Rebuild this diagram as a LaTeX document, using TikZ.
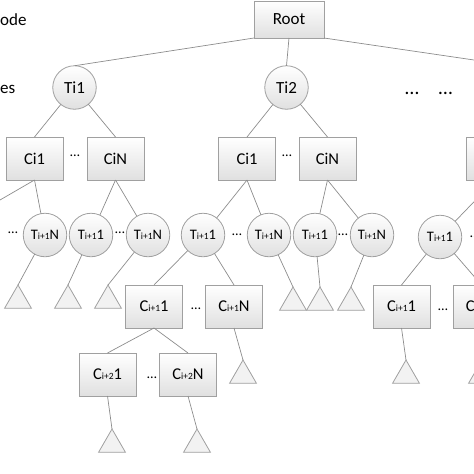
\documentclass[tikz,border=0pt]{standalone}
\usepackage{fontspec}
\setmainfont{Carlito}
\usetikzlibrary{shapes.geometric}
\definecolor{edgec}{HTML}{8C8C8C}
\definecolor{bordc}{HTML}{A0A0A0}
\definecolor{fillc}{HTML}{E0E0E0}
\definecolor{trifill}{HTML}{F2F2F2}
\newcommand\smt[1]{{\fontsize{9.5}{9.5}\selectfont #1}}
\begin{document}
\begin{tikzpicture}[x=1pt,y=-1pt,
  ed/.style={draw=edgec, line width=0.7pt},
  box/.style={draw=bordc, line width=0.8pt, top color=white, bottom color=fillc,
    minimum width=57pt, minimum height=43pt, inner sep=0pt, outer sep=0pt,
    font=\fontsize{16.5}{16.5}\selectfont},
  rootbox/.style={box, minimum width=70pt, minimum height=37pt, font=\fontsize{17}{17}\selectfont},
  bigcirc/.style={circle, draw=bordc, line width=0.8pt, top color=white, bottom color=fillc,
    minimum size=43.5pt, inner sep=0pt, outer sep=0pt, font=\fontsize{17}{17}\selectfont},
  smcirc/.style={bigcirc, font=\fontsize{14.5}{14.5}\selectfont},
  tri/.style={regular polygon, regular polygon sides=3, draw=bordc, line width=0.8pt,
    fill=trifill, minimum size=31pt, inner sep=0pt, outer sep=0pt, anchor=corner 1},
  dotsn/.style={inner sep=0pt, font=\fontsize{14}{14}\selectfont},
  dotsbig/.style={inner sep=0pt, font=\fontsize{20}{20}\selectfont},
  legend/.style={inner sep=0pt, anchor=base west, font=\fontsize{17}{17}\selectfont}]
\useasboundingbox (0,0) rectangle (474,474);
\clip (0,0) rectangle (474,474);

% legend fragments
\node[legend] (lga) at (0,25) {ode};
\node[legend] (lgb) at (0,93) {es};

% level 0 and 1
\node[rootbox] (root) at (289,19.5) {Root};
\node[bigcirc] (t1) at (74.5,87.5) {Ti1};
\node[bigcirc] (t2) at (286.5,87.5) {Ti2};
\coordinate (rt) at (474,60);
\node[dotsbig] (dA) at (412,93) {…};
\node[dotsbig] (dB) at (445.5,93) {…};

% level 2
\node[box] (c1) at (34.5,158.5) {Ci1};
\node[box] (cN) at (115.5,158.5) {CiN};
\node[box] (c1m) at (247,158.5) {Ci1};
\node[box] (cNm) at (327.5,158.5) {CiN};
\node[box] (c3) at (495,158.5) {};
\node[dotsn] (d1) at (75,156) {…};
\node[dotsn] (d2) at (287,156) {…};
\coordinate (lft) at (0,200);

% level 3
\node[smcirc] (s1) at (45,235) {T\smt{i+1}N};
\node[smcirc] (s2) at (91,235) {T\smt{i+1}1};
\node[smcirc] (s3) at (148,235) {T\smt{i+1}N};
\node[smcirc] (s4) at (203,235) {T\smt{i+1}1};
\node[smcirc] (s5) at (269,235) {T\smt{i+1}N};
\node[smcirc] (s6) at (315,235) {T\smt{i+1}1};
\node[smcirc] (s7) at (372,235) {T\smt{i+1}N};
\node[smcirc] (s8) at (440,237) {T\smt{i+1}1};
\node[dotsn] (d3) at (13,233) {…};
\node[dotsn] (d4) at (120,233) {…};
\node[dotsn] (d5) at (237,235) {…};
\node[dotsn] (d6) at (343,235) {…};
\node[dotsn] (d7) at (475,237) {…};

% level 4
\node[box] (e1) at (154,306.5) {C\smt{i+1}1};
\node[box] (e2) at (234,306.5) {C\smt{i+1}N};
\node[box] (e3) at (401.5,306.5) {C\smt{i+1}1};
\node[box] (e4) at (481.5,306.5) {C\smt{i+1}N};
\node[dotsn] (d8) at (196,309) {…};
\node[dotsn] (d9) at (443,310) {…};

% level 5
\node[box] (f1) at (107.5,374.5) {C\smt{i+2}1};
\node[box] (f2) at (188,374.5) {C\smt{i+2}N};
\node[dotsn] (d10) at (152,378) {…};

% triangles
\node[tri] (tr1) at (18,285) {};
\node[tri] (tr2) at (68,285) {};
\node[tri] (tr3) at (108,285) {};
\node[tri] (tr4) at (293,287) {};
\node[tri] (tr5) at (320,287) {};
\node[tri] (tr6) at (351,287) {};
\node[tri] (tr7) at (243,360) {};
\node[tri] (tr8) at (112,429) {};
\node[tri] (tr9) at (197,429) {};
\node[tri] (tr10) at (406,360) {};
\node[tri] (tr11) at (482,360) {};

% edges
\draw[ed] (root.south west) -- (t1.north);
\draw[ed] (root.south) -- (t2.north);
\draw[ed] (root.south east) -- (rt);
\draw[ed] (t1) -- (c1.north);
\draw[ed] (t1) -- (cN.north);
\draw[ed] (t2) -- (c1m.north);
\draw[ed] (t2) -- (cNm.north);
\draw[ed] (c1.south) -- (lft);
\draw[ed] (c1.south) -- (s1);
\draw[ed] (cN.south) -- (s2);
\draw[ed] (cN.south) -- (s3);
\draw[ed] (c1m.south) -- (s4);
\draw[ed] (c1m.south) -- (s5);
\draw[ed] (cNm.south) -- (s6);
\draw[ed] (cNm.south) -- (s7);
\draw[ed] (c3.south) -- (s8);
\draw[ed] (s4) -- (e1.north);
\draw[ed] (s4) -- (e2.north);
\draw[ed] (s8) -- (e3.north);
\draw[ed] (s8) -- (e4.north);
\draw[ed] (e1.south) -- (f1.north);
\draw[ed] (e1.south) -- (f2.north);
\draw[ed] (s1) -- (tr1.corner 1);
\draw[ed] (s2) -- (tr2.corner 1);
\draw[ed] (s3) -- (tr3.corner 1);
\draw[ed] (s5) -- (tr4.corner 1);
\draw[ed] (s6) -- (tr5.corner 1);
\draw[ed] (s7) -- (tr6.corner 1);
\draw[ed] (e2.south) -- (tr7.corner 1);
\draw[ed] (f1.south) -- (tr8.corner 1);
\draw[ed] (f2.south) -- (tr9.corner 1);
\draw[ed] (e3.south) -- (tr10.corner 1);
\draw[ed] (e4.south) -- (tr11.corner 1);
\end{tikzpicture}
\end{document}
